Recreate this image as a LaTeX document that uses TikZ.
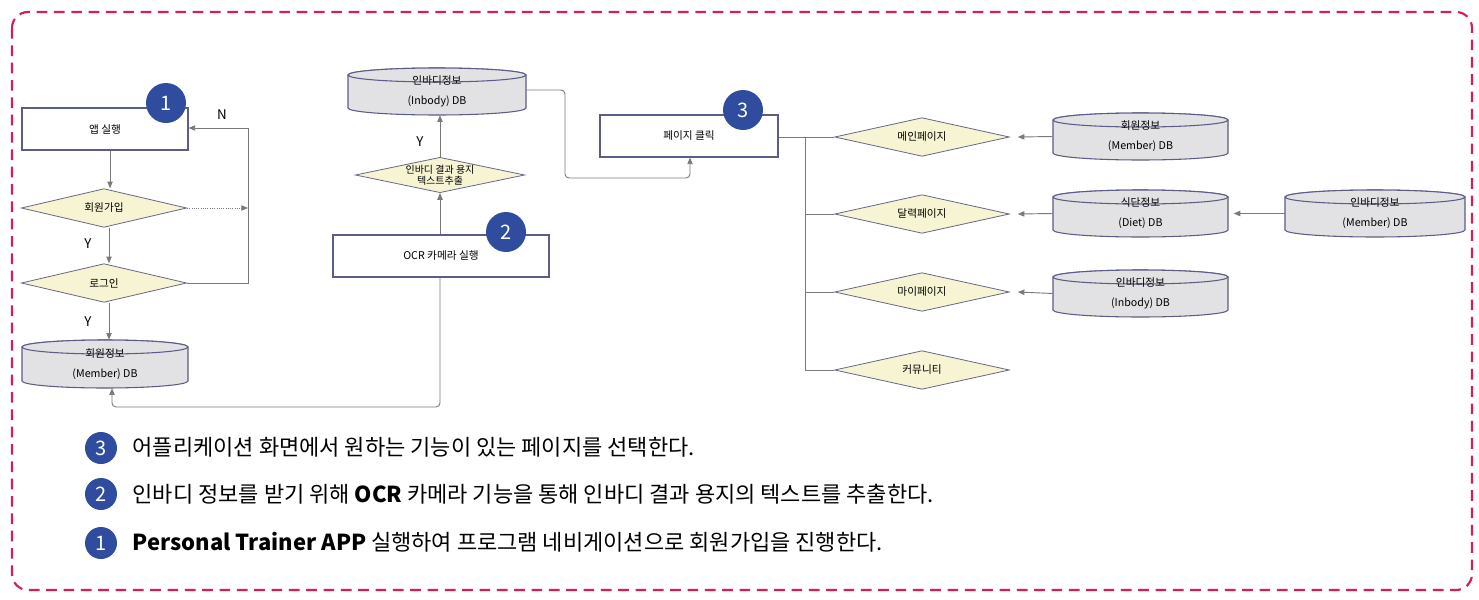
\documentclass[tikz,border=0pt]{standalone}
\usepackage{fontspec}
\setmainfont{Noto Sans CJK KR}
\usetikzlibrary{shapes.geometric,arrows.meta}
\definecolor{frame}{HTML}{D81B60}
\definecolor{badge}{HTML}{2F4C9F}
\definecolor{dia}{HTML}{F6F4D2}
\definecolor{dbf}{HTML}{E2E2E4}
\definecolor{edge}{HTML}{5C5C88}
\definecolor{ln}{HTML}{7A7A7A}
\tikzset{
 box/.style={draw=edge,fill=white,line width=0.8pt,inner sep=0pt,font=\fontsize{8}{9}\selectfont},
 dec/.style={diamond,aspect=4.4,draw=edge!70!gray,fill=dia,line width=0.6pt,inner sep=0pt,font=\fontsize{8}{8.5}\selectfont,align=center},
 dbs/.style={draw=edge,fill=dbf,line width=0.8pt},
 num/.style={circle,fill=badge,text=white,inner sep=0pt,minimum size=30pt,font=\fontsize{15}{15}\selectfont},
 lnum/.style={circle,fill=badge,text=white,inner sep=0pt,minimum size=24pt,font=\fontsize{15}{15}\selectfont},
 con/.style={draw=ln,line width=0.7pt,-{Triangle[length=5pt,width=4pt]}},
 con0/.style={draw=ln,line width=0.7pt},
 lab/.style={font=\fontsize{10}{10}\selectfont},
 leg/.style={anchor=west,font=\fontsize{16.5}{18}\selectfont}
}
\newcommand\dbcyl[6]{%
 \pgfmathsetmacro\rxx{(#4-#2)/2*0.75}%
 \draw[dbs] (#2,#3+7) -- (#2,#5-7) arc[start angle=180,end angle=360,x radius=\rxx pt,y radius=5.25pt] -- (#4,#3+7) arc[start angle=0,end angle=180,x radius=\rxx pt,y radius=5.25pt] -- cycle;
 \draw[dbs] ({(#2+#4)/2},#3+7) ellipse[x radius=\rxx pt,y radius=5.25pt];
 \node[inner sep=0pt,minimum width={(#4-#2)*0.75pt},minimum height={(#5-#3)*0.75pt},align=center,font=\fontsize{8}{15}\selectfont] (#1) at ({(#2+#4)/2},{(#3+#5)/2}) {#6};
}
\begin{document}
\begin{tikzpicture}[x=0.75pt,y=-0.75pt]
\useasboundingbox (0,0) rectangle (1479,600);
\draw[frame,line width=1.6pt,dash pattern=on 8pt off 5pt,rounded corners=12pt] (12,12) rectangle (1472,590);

\node[box,minimum width=124.5pt,minimum height=31.5pt] (app) at (105,129) {앱 실행};
\node[num] (b1) at (166,103) {1};
\node[dec,minimum width=124pt,minimum height=29pt] (join) at (104,208) {회원가입};
\node[dec,minimum width=124pt,minimum height=29pt] (login) at (104,283) {로그인};
\dbcyl{mem}{22}{340}{188}{388}{회원정보\\(Member) DB}
\draw[con] (app.south) ++(5,0) coordinate (a1) -- (a1 |- join.north);
\draw[con] (join.south) ++(5,0) coordinate (a2) -- (a2 |- login.north);
\draw[con] (login.south) ++(5,0) coordinate (a3) -- (a3 |- mem.north);
\coordinate (loopx) at (248,208);
\draw[con,densely dotted] (join.east) -- (loopx);
\draw[con] (login.east) -| (248,128) -- (app.east |- 0,128);
\node[lab] (nl) at (222,115) {N};
\node[lab] (y1) at (88,244) {Y};
\node[lab] (y2) at (88,322) {Y};

\node[box,minimum width=162pt,minimum height=31.5pt] (ocr) at (441,256) {OCR 카메라 실행};
\node[num] (b2) at (506,232) {2};
\node[dec,minimum width=127pt,minimum height=25pt,font=\fontsize{7.5}{8}\selectfont] (ext) at (440,175) {인바디 결과 용지\\텍스트추출};
\dbcyl{inb}{348}{68}{526}{115}{인바디정보\\(Inbody) DB}
\draw[con] (ocr.north -| ext) -- (ext.south);
\draw[con] (ext.north) -- (inb.south -| ext);
\node[lab] (y3) at (420,142) {Y};
\draw[con,rounded corners=3pt] (ocr.south -| 440,0) -- (440,407) -- (112,407) -- (mem.south -| 112,0);

\node[box,minimum width=133.5pt,minimum height=31.5pt] (page) at (689,136) {페이지 클릭};
\node[num] (b3) at (743,110) {3};
\draw[con,rounded corners=3pt] (inb.east |- 0,90) -- (565,90) -- (565,178) -- (690,178) -- (page.south -| 690,0);

\foreach \n/\y/\t in {d1/137/메인페이지,d2/214/달력페이지,d3/292/마이페이지,d4/370/커뮤니티}
  \node[dec,minimum width=131pt,minimum height=29pt] (\n) at (922,\y) {\t};
\draw[con0] (page.east |- 0,137) -- (d1.west);
\draw[con0] (805,137) -- (805,370) -- (d4.west);
\draw[con0] (805,214) -- (d2.west);
\draw[con0] (805,292) -- (d3.west);

\dbcyl{mdb}{1053}{113}{1228}{160}{회원정보\\(Member) DB}
\dbcyl{ddb}{1053}{190}{1228}{237}{식단정보\\(Diet) DB}
\dbcyl{idb}{1053}{270}{1228}{317}{인바디정보\\(Inbody) DB}
\dbcyl{rdb}{1285}{190}{1465}{237}{인바디정보\\(Member) DB}
\draw[con] (mdb.west) -- ([xshift=6pt]d1.east);
\draw[con] (ddb.west) -- ([xshift=6pt]d2.east);
\draw[con] (idb.west) -- ([xshift=6pt]d3.east);
\draw[con] (rdb.west) -- ([xshift=4pt]ddb.east);

\node[lnum] (l3) at (101,448) {3};
\node[leg] (t3) at (128,447) {어플리케이션 화면에서 원하는 기능이 있는 페이지를 선택한다.};
\node[lnum] (l2) at (101,494) {2};
\node[leg] (t2) at (128,494) {인바디 정보를 받기 위해 \textbf{OCR} 카메라 기능을 통해 인바디 결과 용지의 텍스트를 추출한다.};
\node[lnum] (l1) at (101,543) {1};
\node[leg] (t1) at (128,542) {\textbf{Personal Trainer APP} 실행하여 프로그램 네비게이션으로 회원가입을 진행한다.};
\end{tikzpicture}
\end{document}
